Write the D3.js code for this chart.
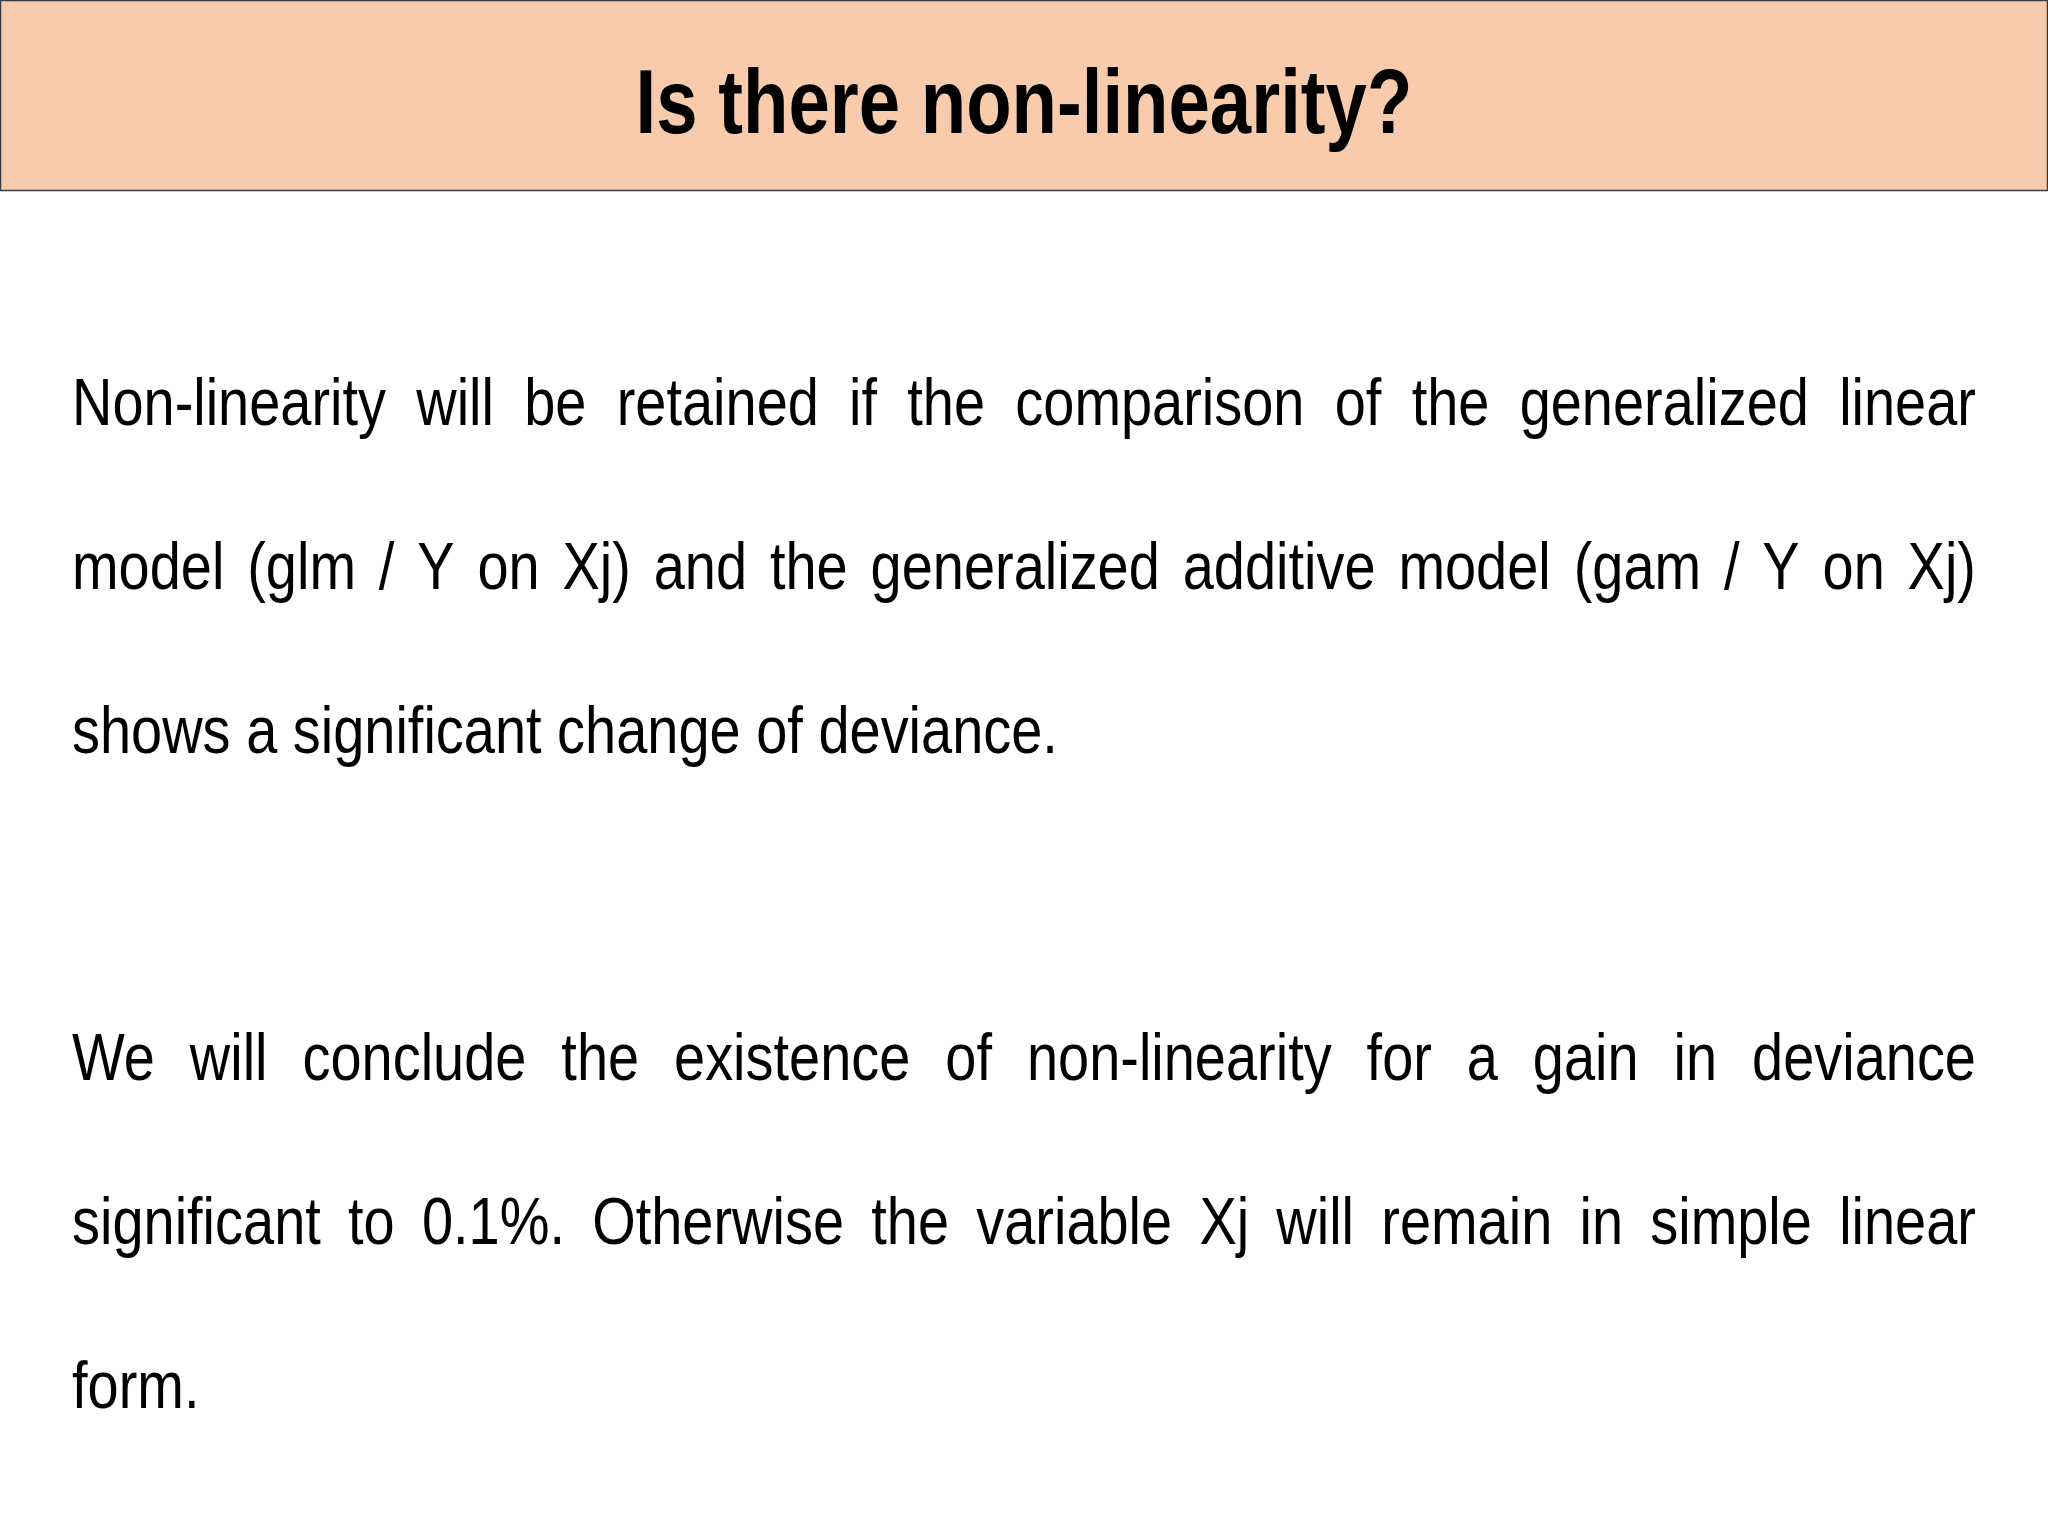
<!DOCTYPE html>
<html>
<head>
<meta charset="utf-8">
<script src="https://cdn.jsdelivr.net/npm/d3@7"></script>
<style>
  html, body { margin: 0; padding: 0; background: #fff; }
  svg { display: block; }
</style>
</head>
<body>
<div id="slide"></div>
<script>
// slide content
var title = "Is there non-linearity?";
var paragraph1 = [
  "Non-linearity will be retained if the comparison of the generalized linear",
  "model (glm / Y on Xj) and the generalized additive model (gam / Y on Xj)",
  "shows a significant change of deviance."
];
var paragraph2 = [
  "We will conclude the existence of non-linearity for a gain in deviance",
  "significant to 0.1%. Otherwise the variable Xj will remain in simple linear",
  "form."
];

var W = 2048, H = 1536;
var narrow = "'Liberation Sans Narrow', 'Arial Narrow', 'Liberation Sans', Arial, sans-serif";

var svg = d3.select("#slide").append("svg")
  .attr("width", W)
  .attr("height", H);

svg.append("rect").attr("width", W).attr("height", H).attr("fill", "#fff");

// title band
svg.append("rect")
  .attr("x", 0.5).attr("y", 0.5)
  .attr("width", W - 1).attr("height", 190)
  .attr("fill", "#f8cbad")
  .attr("stroke", "#3a3a3a")
  .attr("stroke-width", 1.5);

var titleText = svg.append("text")
  .attr("font-family", narrow)
  .attr("font-weight", "bold")
  .attr("font-size", 91)
  .attr("fill", "#000")
  .text(title);
// fit to the width seen on the slide
var tw = titleText.node().getComputedTextLength();
var tsx = 777 / tw;
titleText.attr("transform", "translate(" + (W / 2 - 777 / 2) + ",133) scale(" + tsx + ",1)");

// body text
var left = 72, right = 1976, fontSize = 67;
var body = svg.append("g");

function measure(str) {
  var t = body.append("text")
    .attr("font-family", narrow)
    .attr("font-size", fontSize)
    .text(str);
  var w = t.node().getComputedTextLength();
  t.remove();
  return w;
}

// horizontal correction so a plain line matches its length on the slide
var sx = 986 / measure(paragraph1[2]);
var avail = (right - left) / sx;

var lines = [];
paragraph1.forEach(function (l, i) {
  lines.push({ text: l, justify: i < paragraph1.length - 1 });
});
paragraph2.forEach(function (l, i) {
  lines.push({ text: l, justify: i < paragraph2.length - 1 });
});

var y = d3.scalePoint()
  .domain(d3.range(lines.length + 1))
  .range([425, 1408 + 163.5]);
// paragraph gap = one extra line
var rowIndex = [0, 1, 2, 4, 5, 6];

var row = body.selectAll("g.line")
  .data(lines)
  .enter()
  .append("g")
  .attr("class", "line")
  .attr("transform", function (d, i) {
    return "translate(" + left + "," + (425 + rowIndex[i] * 163.8) + ") scale(" + sx + ",1)";
  });

row.each(function (d) {
  var g = d3.select(this);
  if (!d.justify) {
    g.append("text")
      .attr("font-family", narrow)
      .attr("font-size", fontSize)
      .attr("fill", "#000")
      .text(d.text);
    return;
  }
  var words = d.text.split(" ");
  var widths = words.map(measure);
  var gap = (avail - d3.sum(widths)) / (words.length - 1);
  var x = 0;
  words.forEach(function (w, k) {
    g.append("text")
      .attr("x", x)
      .attr("font-family", narrow)
      .attr("font-size", fontSize)
      .attr("fill", "#000")
      .text(w);
    x += widths[k] + gap;
  });
});
</script>
</body>
</html>
